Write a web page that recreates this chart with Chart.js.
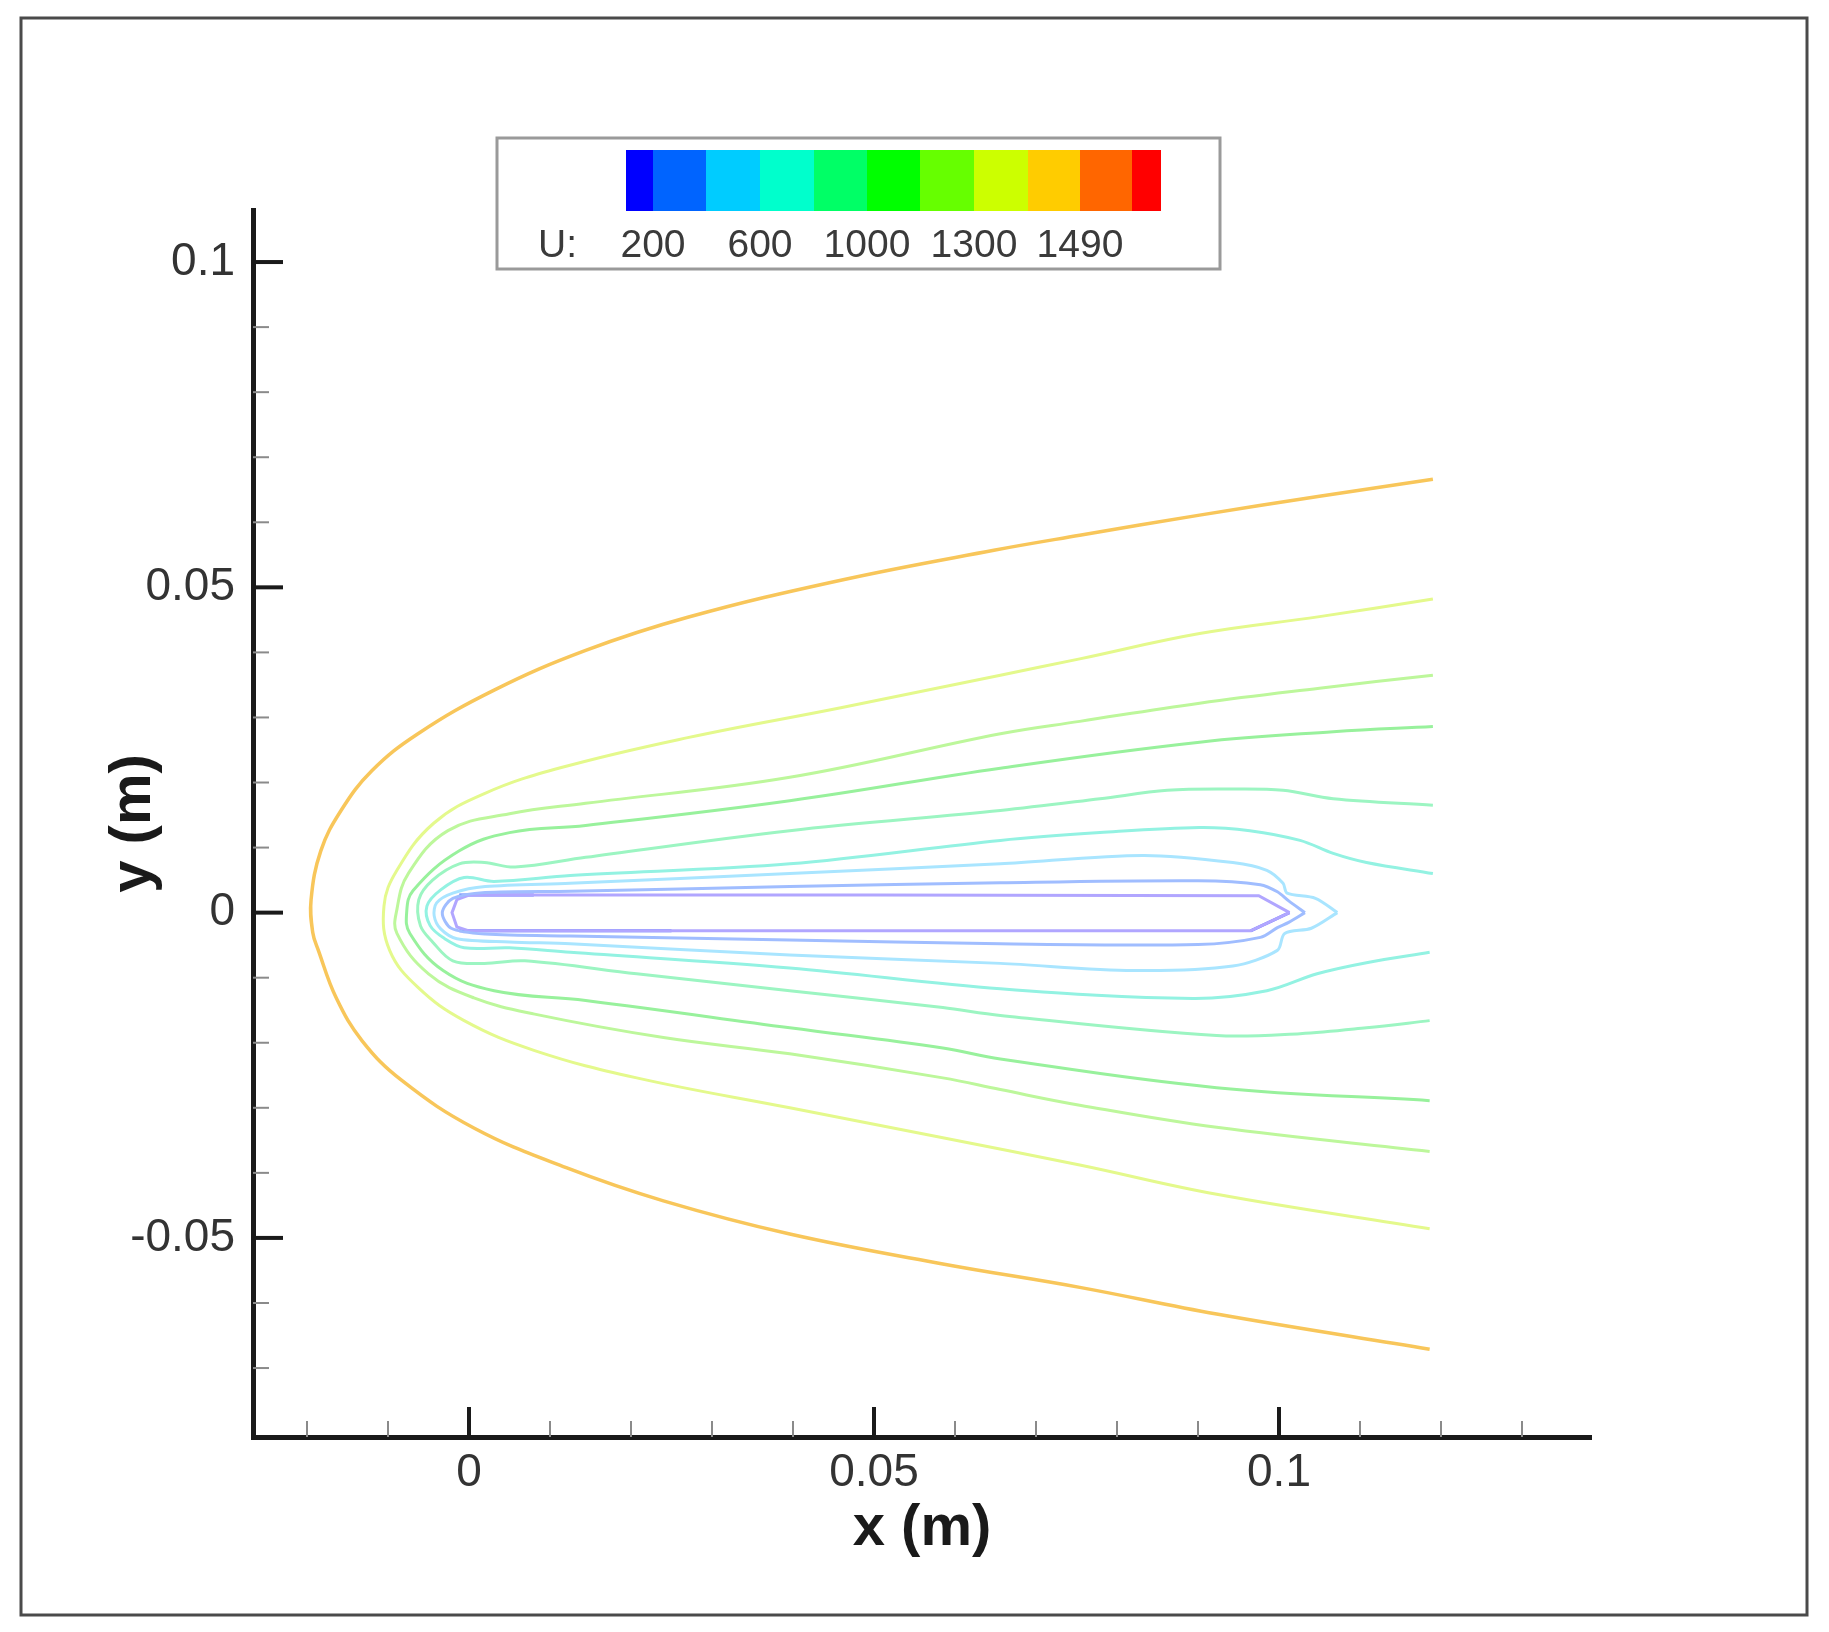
<!DOCTYPE html>
<html><head><meta charset="utf-8">
<script src="https://cdn.jsdelivr.net/npm/chart.js@4.4.1/dist/chart.umd.min.js"></script>
<style>html,body{margin:0;padding:0;background:#fff;}#wrap{width:1829px;height:1632px;}</style>
</head><body><div id="wrap"><canvas id="c" width="1829" height="1632"></canvas></div>
<script>
// ---------- axis ticks ----------
const xTickValues = [-0.02,-0.01,0,0.01,0.02,0.03,0.04,0.05,0.06,0.07,0.08,0.09,0.1,0.11,0.12,0.13];
const xMajorTicks = [0,0.05,0.1];
const yTickValues = [-0.07,-0.06,-0.05,-0.04,-0.03,-0.02,-0.01,0,0.01,0.02,0.03,0.04,0.05,0.06,0.07,0.08,0.09,0.1];
const yMajorTicks = [-0.05,0,0.05,0.1];

// ---------- contour legend ----------
const legendVariable = 'U:';
const legendColors = ['#0000ff','#0064ff','#00ccff','#00ffcc','#00ff66','#00ff00','#66ff00','#ccff00','#ffcc00','#ff6600','#ff0000'];
const legendLabels = ['200','600','1000','1300','1490'];

// ---------- contour lines (x, y in m) ----------
const levelOrange = [[0.1190,0.0666],[0.1050,0.0640],[0.0902,0.0611],[0.0754,0.0580],[0.0648,0.0557],[0.0459,0.0511],[0.0270,0.0454],[0.0144,0.0403],[0.0031,0.0342],[-0.0063,0.0275],[-0.0120,0.0218],[-0.0158,0.0157],[-0.0183,0.0095],[-0.0195,0.0020],[-0.0193,-0.0030],[-0.0186,-0.0058],[-0.0164,-0.0131],[-0.0132,-0.0197],[-0.0083,-0.0258],[0.0006,-0.0331],[0.0120,-0.0392],[0.0240,-0.0443],[0.0396,-0.0494],[0.0585,-0.0540],[0.0754,-0.0576],[0.0923,-0.0617],[0.1186,-0.0671]];
const levelYellow = [[0.1190,0.0482],[0.1050,0.0455],[0.0902,0.0429],[0.0754,0.0390],[0.0656,0.0365],[0.0459,0.0315],[0.0270,0.0269],[0.0114,0.0223],[0.0019,0.0183],[-0.0044,0.0137],[-0.0089,0.0065],[-0.0105,0.0010],[-0.0098,-0.0058],[-0.0063,-0.0115],[-0.0006,-0.0166],[0.0081,-0.0212],[0.0207,-0.0254],[0.0396,-0.0300],[0.0585,-0.0346],[0.0754,-0.0388],[0.0923,-0.0433],[0.1186,-0.0486]];
const levelLightGreen = [[0.1190,0.0365],[0.1050,0.0345],[0.0902,0.0322],[0.0754,0.0294],[0.0656,0.0275],[0.0396,0.0208],[0.0144,0.0168],[0.0050,0.0152],[-0.0026,0.0126],[-0.0075,0.0060],[-0.0089,0.0005],[-0.0089,-0.0032],[-0.0050,-0.0094],[0.0006,-0.0131],[0.0081,-0.0156],[0.0240,-0.0192],[0.0396,-0.0217],[0.0585,-0.0254],[0.0656,-0.0272],[0.0754,-0.0296],[0.0923,-0.0330],[0.1186,-0.0367]];
const levelGreen = [[0.1190,0.0286],[0.1067,0.0278],[0.0902,0.0262],[0.0656,0.0222],[0.0396,0.0172],[0.0144,0.0134],[0.0050,0.0123],[-0.0012,0.0095],[-0.0069,0.0034],[-0.0077,0.0000],[-0.0073,-0.0032],[-0.0032,-0.0089],[0.0031,-0.0120],[0.0144,-0.0135],[0.0396,-0.0177],[0.0585,-0.0208],[0.0656,-0.0225],[0.0923,-0.0269],[0.1186,-0.0289]];
const levelSeaGreen = [[0.1190,0.0165],[0.1067,0.0175],[0.1005,0.0188],[0.0943,0.0190],[0.0862,0.0188],[0.0779,0.0175],[0.0656,0.0157],[0.0396,0.0126],[0.0144,0.0085],[0.0057,0.0070],[0.0019,0.0077],[-0.0012,0.0075],[-0.0045,0.0050],[-0.0062,0.0020],[-0.0060,-0.0020],[-0.0045,-0.0045],[-0.0020,-0.0074],[0.0019,-0.0078],[0.0069,-0.0074],[0.0207,-0.0094],[0.0396,-0.0120],[0.0585,-0.0146],[0.0656,-0.0158],[0.0923,-0.0189],[0.1026,-0.0186],[0.1108,-0.0177],[0.1186,-0.0166]];
const levelAqua = [[0.1190,0.0060],[0.1108,0.0077],[0.1067,0.0091],[0.1026,0.0111],[0.0964,0.0126],[0.0902,0.0131],[0.0779,0.0123],[0.0656,0.0111],[0.0396,0.0075],[0.0125,0.0057],[0.0031,0.0048],[-0.0006,0.0054],[-0.0035,0.0035],[-0.0052,0.0010],[-0.0048,-0.0020],[-0.0030,-0.0040],[-0.0006,-0.0054],[0.0050,-0.0054],[0.0125,-0.0061],[0.0396,-0.0085],[0.0656,-0.0117],[0.0894,-0.0132],[0.0985,-0.0120],[0.1047,-0.0094],[0.1108,-0.0077],[0.1186,-0.0061]];
const levelSky = [[0.1072,0.0000],[0.1045,0.0022],[0.1010,0.0030],[0.1005,0.0045],[0.0985,0.0065],[0.0943,0.0077],[0.0832,0.0088],[0.0656,0.0075],[0.0396,0.0060],[0.0125,0.0045],[0.0020,0.0040],[-0.0020,0.0030],[-0.0040,0.0015],[-0.0043,-0.0005],[-0.0035,-0.0025],[-0.0015,-0.0040],[0.0050,-0.0045],[0.0125,-0.0048],[0.0396,-0.0065],[0.0656,-0.0078],[0.0820,-0.0089],[0.0943,-0.0082],[0.0998,-0.0058],[0.1007,-0.0032],[0.1040,-0.0024],[0.1072,0.0000]];
const levelLightBlue = [[0.1032,0.0000],[0.1012,0.0018],[0.0998,0.0032],[0.0977,0.0043],[0.0900,0.0049],[0.0656,0.0046],[0.0396,0.0040],[0.0125,0.0033],[0.0020,0.0031],[-0.0020,0.0022],[-0.0033,0.0000],[-0.0022,-0.0024],[0.0020,-0.0033],[0.0125,-0.0036],[0.0396,-0.0042],[0.0656,-0.0048],[0.0900,-0.0049],[0.0977,-0.0038],[0.0998,-0.0023],[0.1012,-0.0015],[0.1032,0.0000]];
const levelLavender = [[0.1013,0.0000],[0.0975,0.0026],[0.0500,0.0027],[0.0000,0.0027],[-0.0015,0.0020],[-0.0021,0.0000],[-0.0015,-0.0022],[0.0000,-0.0028],[0.0500,-0.0028],[0.0965,-0.0028],[0.1013,0.0000]];
const plateAccentUpper = [[-0.0012,0.0027],[0.0080,0.0027]];
const plateAccentLower = [[-0.0012,-0.0028],[0.0250,-0.0028]];
const plateAccentTail = [[0.0965,-0.0028],[0.1013,0.0000]];

const toPts = a => a.map(p => ({x:p[0], y:p[1]}));
function ds(arr, color, width, tension){
  return {data: toPts(arr), borderColor: color, borderWidth: width, showLine: true, pointRadius: 0, tension: tension, fill: false};
}
const datasets = [
  ds(levelOrange,'#f8c65a',3.5,0.4),
  ds(levelYellow,'#e4f98c',3,0.4),
  ds(levelLightGreen,'#bdf79b',3,0.4),
  ds(levelGreen,'#98f19c',3,0.4),
  ds(levelSeaGreen,'#9cf5c2',3,0.35),
  ds(levelAqua,'#93f2e2',3,0.35),
  ds(levelSky,'#a9e5ff',3,0.3),
  ds(levelLightBlue,'#a0bdff',3,0.3),
  ds(levelLavender,'#b1a6ff',3,0),
  ds(plateAccentUpper,'rgba(60,95,255,0.85)',3,0),
  ds(plateAccentLower,'rgba(60,95,255,0.85)',3,0),
  ds(plateAccentTail,'rgba(70,90,255,0.85)',3,0)
];

const near = (a,b) => Math.abs(a-b) < 1e-9;
const isMajor = (v, list) => list.some(m => near(m, v));

const decorPlugin = {
  id: 'decor',
  beforeDraw(chart){
    const ctx = chart.ctx;
    ctx.save();
    ctx.fillStyle = '#fff';
    ctx.fillRect(0,0,chart.width,chart.height);
    ctx.strokeStyle = '#4a4a4a';
    ctx.lineWidth = 3;
    ctx.strokeRect(21,18,1786,1597);
    ctx.restore();
  },
  afterDraw(chart){
    const ctx = chart.ctx;
    const xs = chart.scales.x, ys = chart.scales.y;
    const ca = chart.chartArea;
    ctx.save();
    xTickValues.forEach(v => {
      const px = xs.getPixelForValue(v);
      const major = isMajor(v, xMajorTicks);
      ctx.beginPath();
      ctx.strokeStyle = major ? '#1a1a1a' : '#8a8a8a';
      ctx.lineWidth = major ? 4 : 2;
      ctx.moveTo(px, ca.bottom);
      ctx.lineTo(px, ca.bottom - (major ? 30 : 16));
      ctx.stroke();
    });
    yTickValues.forEach(v => {
      const py = ys.getPixelForValue(v);
      const major = isMajor(v, yMajorTicks);
      ctx.beginPath();
      ctx.strokeStyle = major ? '#1a1a1a' : '#8a8a8a';
      ctx.lineWidth = major ? 4 : 2;
      ctx.moveTo(ca.left, py);
      ctx.lineTo(ca.left + (major ? 30 : 16), py);
      ctx.stroke();
    });
    ctx.fillStyle = '#fff';
    ctx.fillRect(497,138,723,131);
    ctx.strokeStyle = '#9a9a9a';
    ctx.lineWidth = 3;
    ctx.strokeRect(497,138,723,131);
    const bounds = [626,653,706,760,814,867,920,974,1028,1080,1132,1161];
    legendColors.forEach((c,i) => {
      ctx.fillStyle = c;
      ctx.fillRect(bounds[i],150,bounds[i+1]-bounds[i],61);
    });
    ctx.fillStyle = '#3a3a3a';
    ctx.font = '39px "Liberation Sans", Arial, sans-serif';
    ctx.textBaseline = 'middle';
    ctx.textAlign = 'left';
    ctx.fillText(legendVariable, 538, 246);
    ctx.textAlign = 'center';
    legendLabels.forEach((t,i) => {
      ctx.fillText(t, bounds[1 + 2*i], 246);
    });
    ctx.restore();
  }
};

new Chart(document.getElementById('c'), {
  type: 'scatter',
  data: { datasets },
  options: {
    responsive: false,
    devicePixelRatio: 1,
    animation: false,
    layout: { padding: { top: 210, right: 238, left: 0, bottom: 0 } },
    plugins: { legend: { display: false }, tooltip: { enabled: false } },
    scales: {
      x: {
        type: 'linear',
        min: -0.02667, max: 0.13852,
        afterBuildTicks: s => { s.ticks = xTickValues.map(v => ({value: v})); },
        afterFit: s => { s.height = 195; },
        grid: { display: false, drawTicks: false },
        border: { display: true, color: '#1a1a1a', width: 5 },
        ticks: {
          autoSkip: false, maxRotation: 0, padding: 9,
          color: '#333',
          font: { family: '"Liberation Sans", Arial, sans-serif', size: 46 },
          callback: v => isMajor(v, xMajorTicks) ? String(Math.round(v*100)/100) : ''
        },
        title: {
          display: true, text: 'x (m)', color: '#1a1a1a',
          font: { family: '"Liberation Sans", Arial, sans-serif', size: 58, weight: 'bold' },
          padding: { top: 0, bottom: 68 }
        }
      },
      y: {
        type: 'linear',
        min: -0.0806, max: 0.108,
        afterBuildTicks: s => { s.ticks = yTickValues.map(v => ({value: v})); },
        afterFit: s => { s.width = 253; },
        grid: { display: false, drawTicks: false },
        border: { display: true, color: '#1a1a1a', width: 5 },
        ticks: {
          autoSkip: false, padding: 18,
          color: '#333',
          font: { family: '"Liberation Sans", Arial, sans-serif', size: 46 },
          callback: v => isMajor(v, yMajorTicks) ? String(Math.round(v*100)/100) : ''
        },
        title: {
          display: true, text: 'y (m)', color: '#1a1a1a',
          font: { family: '"Liberation Sans", Arial, sans-serif', size: 58, weight: 'bold' },
          padding: { top: 99, bottom: 0 }
        }
      }
    }
  },
  plugins: [decorPlugin]
});
</script>
</body></html>
